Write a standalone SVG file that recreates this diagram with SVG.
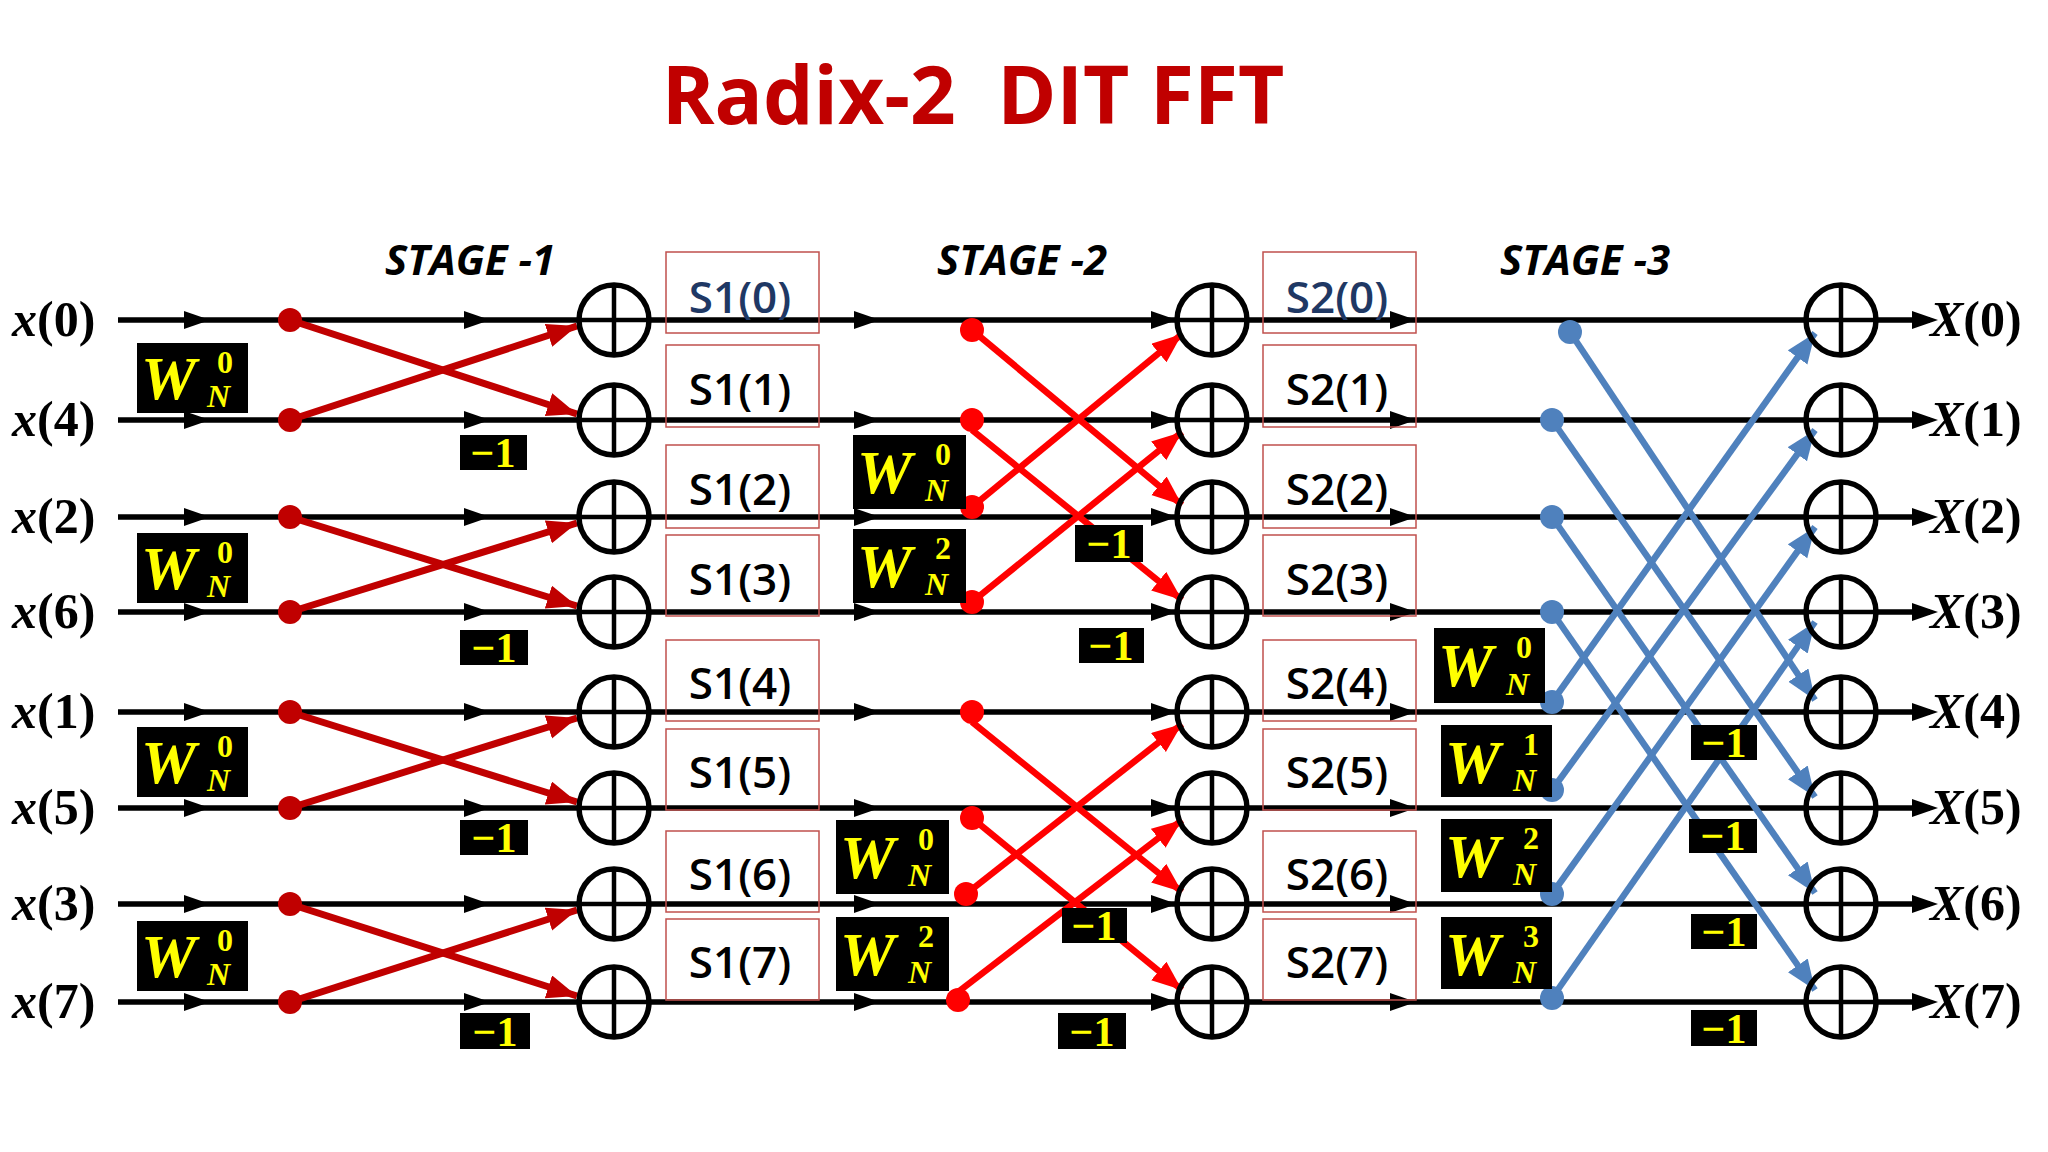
<svg xmlns="http://www.w3.org/2000/svg" xmlns:xlink="http://www.w3.org/1999/xlink" width="2048" height="1152" viewBox="0 0 2048 1152">
<style>
.title{font-family:"Open Sans","Liberation Sans",sans-serif;font-weight:bold;font-size:80px;fill:#c00000;white-space:pre}
.stage{font-family:"Open Sans","Liberation Sans",sans-serif;font-weight:bold;font-style:italic;font-size:42px;fill:#000}
.lbl{font-family:"Liberation Serif",serif;font-weight:bold;font-size:50px;fill:#000}
.it{font-style:italic}
.sb{fill:none;stroke:#c0504d;stroke-width:1.5}
.st{font-family:"Open Sans","Liberation Sans",sans-serif;font-weight:600;font-size:44px;fill:#000;text-anchor:middle}
.blue{fill:#1f3864}
.wb{fill:#000}
.W{font-family:"Liberation Serif",serif;font-weight:bold;font-style:italic;font-size:62px;fill:#ffff00}
.sup{font-family:"Liberation Serif",serif;font-weight:bold;font-size:32px;fill:#ffff00}
.sub{font-family:"Liberation Serif",serif;font-weight:bold;font-style:italic;font-size:32px;fill:#ffff00}
.m1{font-family:"Liberation Serif",serif;font-weight:bold;font-size:42px;fill:#ffff00;text-anchor:middle}
.ln{stroke:#000;stroke-width:5.5;fill:none}
.add circle{fill:none;stroke:#000;stroke-width:5.5}
.add path{stroke:#000;stroke-width:4.5}
.c1{stroke:#c00000;stroke-width:7;fill:none;marker-end:url(#a1)}
.c2{stroke:#ff0000;stroke-width:6.5;fill:none;marker-end:url(#a2)}
.c3{stroke:#4f81bd;stroke-width:6.5;fill:none;marker-end:url(#a3)}
</style>
<defs>
<polygon id="ah" points="-26,-9 0,0 -26,9"/>
<marker id="a1" markerUnits="userSpaceOnUse" markerWidth="40" markerHeight="30" refX="30" refY="12" orient="auto"><polygon points="0,0 30,12 0,24" fill="#c00000"/></marker>
<marker id="a2" markerUnits="userSpaceOnUse" markerWidth="40" markerHeight="30" refX="30" refY="12" orient="auto"><polygon points="0,0 30,12 0,24" fill="#ff0000"/></marker>
<marker id="a3" markerUnits="userSpaceOnUse" markerWidth="40" markerHeight="30" refX="30" refY="12" orient="auto"><polygon points="0,0 30,12 0,24" fill="#4f81bd"/></marker>
<g id="adder" class="add"><circle r="35"/><path d="M-35 0H35M0 -35V35"/></g>
</defs>

<text class="title" x="973" y="124" text-anchor="middle" xml:space="preserve">Radix-2  DIT FFT</text>
<text class="stage" x="470" y="275" text-anchor="middle">STAGE -1</text>
<text class="stage" x="1022" y="275" text-anchor="middle">STAGE -2</text>
<text class="stage" x="1585" y="275" text-anchor="middle">STAGE -3</text>

<g id="connectors">
<path class="ln" d="M118 320H579M118 420H579M118 517H579M118 612H579M118 712H579M118 808H579M118 904H579M118 1002H579"/>
<path class="ln" d="M649 320H1177M649 420H1177M649 517H1177M649 612H1177M649 712H1177M649 808H1177M649 904H1177M649 1002H1177"/>
<path class="ln" d="M1247 320H1806M1247 420H1806M1247 517H1806M1247 612H1806M1247 712H1806M1247 808H1806M1247 904H1806M1247 1002H1806"/>
<path class="ln" d="M1876 320H1930M1876 420H1930M1876 517H1930M1876 612H1930M1876 712H1930M1876 808H1930M1876 904H1930M1876 1002H1930"/>
<g fill="#000">
<use xlink:href="#ah" x="210" y="320"/><use xlink:href="#ah" x="210" y="420"/><use xlink:href="#ah" x="210" y="517"/><use xlink:href="#ah" x="210" y="612"/>
<use xlink:href="#ah" x="210" y="712"/><use xlink:href="#ah" x="210" y="808"/><use xlink:href="#ah" x="210" y="904"/><use xlink:href="#ah" x="210" y="1002"/>
<use xlink:href="#ah" x="490" y="320"/><use xlink:href="#ah" x="490" y="420"/><use xlink:href="#ah" x="490" y="517"/><use xlink:href="#ah" x="490" y="612"/>
<use xlink:href="#ah" x="490" y="712"/><use xlink:href="#ah" x="490" y="808"/><use xlink:href="#ah" x="490" y="904"/><use xlink:href="#ah" x="490" y="1002"/>
<use xlink:href="#ah" x="880" y="320"/><use xlink:href="#ah" x="880" y="420"/><use xlink:href="#ah" x="880" y="517"/><use xlink:href="#ah" x="880" y="612"/>
<use xlink:href="#ah" x="880" y="712"/><use xlink:href="#ah" x="880" y="808"/><use xlink:href="#ah" x="880" y="904"/><use xlink:href="#ah" x="880" y="1002"/>
<use xlink:href="#ah" x="1177" y="320"/><use xlink:href="#ah" x="1177" y="420"/><use xlink:href="#ah" x="1177" y="517"/><use xlink:href="#ah" x="1177" y="612"/>
<use xlink:href="#ah" x="1177" y="712"/><use xlink:href="#ah" x="1177" y="808"/><use xlink:href="#ah" x="1177" y="904"/><use xlink:href="#ah" x="1177" y="1002"/>
<use xlink:href="#ah" x="1416" y="320"/><use xlink:href="#ah" x="1416" y="420"/><use xlink:href="#ah" x="1416" y="517"/><use xlink:href="#ah" x="1416" y="612"/>
<use xlink:href="#ah" x="1416" y="712"/><use xlink:href="#ah" x="1416" y="808"/><use xlink:href="#ah" x="1416" y="904"/><use xlink:href="#ah" x="1416" y="1002"/>
<use xlink:href="#ah" x="1938" y="320"/><use xlink:href="#ah" x="1938" y="420"/><use xlink:href="#ah" x="1938" y="517"/><use xlink:href="#ah" x="1938" y="612"/>
<use xlink:href="#ah" x="1938" y="712"/><use xlink:href="#ah" x="1938" y="808"/><use xlink:href="#ah" x="1938" y="904"/><use xlink:href="#ah" x="1938" y="1002"/>
</g>
<path class="c1" d="M290 320L577 414"/><path class="c1" d="M290 420L577 326"/>
<path class="c1" d="M290 517L577 606"/><path class="c1" d="M290 612L577 523"/>
<path class="c1" d="M290 712L577 802"/><path class="c1" d="M290 808L577 718"/>
<path class="c1" d="M290 904L577 996"/><path class="c1" d="M290 1002L577 910"/>
<g fill="#c00000"><circle cx="290" cy="320" r="12"/><circle cx="290" cy="420" r="12"/><circle cx="290" cy="517" r="12"/><circle cx="290" cy="612" r="12"/><circle cx="290" cy="712" r="12"/><circle cx="290" cy="808" r="12"/><circle cx="290" cy="904" r="12"/><circle cx="290" cy="1002" r="12"/></g>
<path class="c2" d="M972 330L1182 505"/><path class="c2" d="M972 430L1182 600"/>
<path class="c2" d="M972 507L1182 334"/><path class="c2" d="M972 602L1182 432"/>
<path class="c2" d="M972 722L1182 892"/><path class="c2" d="M972 818L1182 990"/>
<path class="c2" d="M966 894L1182 724"/><path class="c2" d="M958 992L1182 820"/>
<g fill="#ff0000"><circle cx="972" cy="330" r="12"/><circle cx="972" cy="420" r="12"/><circle cx="972" cy="507" r="12"/><circle cx="972" cy="602" r="12"/><circle cx="972" cy="712" r="12"/><circle cx="972" cy="818" r="12"/><circle cx="966" cy="894" r="12"/><circle cx="958" cy="1000" r="12"/></g>
<path class="c3" d="M1570 332L1815 700"/><path class="c3" d="M1552 420L1815 797"/>
<path class="c3" d="M1552 517L1815 893"/><path class="c3" d="M1552 612L1815 990"/>
<path class="c3" d="M1552 702L1815 333"/><path class="c3" d="M1552 790L1815 430"/>
<path class="c3" d="M1552 894L1815 527"/><path class="c3" d="M1552 998L1815 622"/>
<g fill="#4f81bd"><circle cx="1570" cy="332" r="12"/><circle cx="1552" cy="420" r="12"/><circle cx="1552" cy="517" r="12"/><circle cx="1552" cy="612" r="12"/><circle cx="1552" cy="702" r="12"/><circle cx="1552" cy="790" r="12"/><circle cx="1552" cy="894" r="12"/><circle cx="1552" cy="998" r="12"/></g>
</g>

<g id="inputs" class="lbl">
<text x="12" y="336"><tspan class="it">x</tspan>(0)</text>
<text x="12" y="436"><tspan class="it">x</tspan>(4)</text>
<text x="12" y="533"><tspan class="it">x</tspan>(2)</text>
<text x="12" y="628"><tspan class="it">x</tspan>(6)</text>
<text x="12" y="728"><tspan class="it">x</tspan>(1)</text>
<text x="12" y="824"><tspan class="it">x</tspan>(5)</text>
<text x="12" y="920"><tspan class="it">x</tspan>(3)</text>
<text x="12" y="1018"><tspan class="it">x</tspan>(7)</text>
</g>
<g id="outputs" class="lbl">
<text x="1930" y="336"><tspan class="it">X</tspan>(0)</text>
<text x="1930" y="436"><tspan class="it">X</tspan>(1)</text>
<text x="1930" y="533"><tspan class="it">X</tspan>(2)</text>
<text x="1930" y="628"><tspan class="it">X</tspan>(3)</text>
<text x="1930" y="728"><tspan class="it">X</tspan>(4)</text>
<text x="1930" y="824"><tspan class="it">X</tspan>(5)</text>
<text x="1930" y="920"><tspan class="it">X</tspan>(6)</text>
<text x="1930" y="1018"><tspan class="it">X</tspan>(7)</text>
</g>

<g id="adders">
<use xlink:href="#adder" x="614" y="320"/><use xlink:href="#adder" x="614" y="420"/><use xlink:href="#adder" x="614" y="517"/><use xlink:href="#adder" x="614" y="612"/>
<use xlink:href="#adder" x="614" y="712"/><use xlink:href="#adder" x="614" y="808"/><use xlink:href="#adder" x="614" y="904"/><use xlink:href="#adder" x="614" y="1002"/>
<use xlink:href="#adder" x="1212" y="320"/><use xlink:href="#adder" x="1212" y="420"/><use xlink:href="#adder" x="1212" y="517"/><use xlink:href="#adder" x="1212" y="612"/>
<use xlink:href="#adder" x="1212" y="712"/><use xlink:href="#adder" x="1212" y="808"/><use xlink:href="#adder" x="1212" y="904"/><use xlink:href="#adder" x="1212" y="1002"/>
<use xlink:href="#adder" x="1841" y="320"/><use xlink:href="#adder" x="1841" y="420"/><use xlink:href="#adder" x="1841" y="517"/><use xlink:href="#adder" x="1841" y="612"/>
<use xlink:href="#adder" x="1841" y="712"/><use xlink:href="#adder" x="1841" y="808"/><use xlink:href="#adder" x="1841" y="904"/><use xlink:href="#adder" x="1841" y="1002"/>
</g>

<g id="s1">
<rect class="sb" x="666" y="252" width="153" height="81"/><text class="st blue" x="740" y="313">S1(0)</text>
<rect class="sb" x="666" y="345" width="153" height="82"/><text class="st" x="740" y="405">S1(1)</text>
<rect class="sb" x="666" y="445" width="153" height="83"/><text class="st" x="740" y="505">S1(2)</text>
<rect class="sb" x="666" y="535" width="153" height="81"/><text class="st" x="740" y="595">S1(3)</text>
<rect class="sb" x="666" y="640" width="153" height="81"/><text class="st" x="740" y="699">S1(4)</text>
<rect class="sb" x="666" y="729" width="153" height="81"/><text class="st" x="740" y="788">S1(5)</text>
<rect class="sb" x="666" y="831" width="153" height="81"/><text class="st" x="740" y="890">S1(6)</text>
<rect class="sb" x="666" y="919" width="153" height="81"/><text class="st" x="740" y="978">S1(7)</text>
</g>
<g id="s2">
<rect class="sb" x="1263" y="252" width="153" height="81"/><text class="st blue" x="1337" y="313">S2(0)</text>
<rect class="sb" x="1263" y="345" width="153" height="82"/><text class="st" x="1337" y="405">S2(1)</text>
<rect class="sb" x="1263" y="445" width="153" height="83"/><text class="st" x="1337" y="505">S2(2)</text>
<rect class="sb" x="1263" y="535" width="153" height="81"/><text class="st" x="1337" y="595">S2(3)</text>
<rect class="sb" x="1263" y="640" width="153" height="81"/><text class="st" x="1337" y="699">S2(4)</text>
<rect class="sb" x="1263" y="729" width="153" height="81"/><text class="st" x="1337" y="788">S2(5)</text>
<rect class="sb" x="1263" y="831" width="153" height="81"/><text class="st" x="1337" y="890">S2(6)</text>
<rect class="sb" x="1263" y="919" width="153" height="81"/><text class="st" x="1337" y="978">S2(7)</text>
</g>

<g id="twiddles">
<g transform="translate(137,343)"><rect class="wb" width="111" height="70"/><text class="W" x="4" y="56">W</text><text class="sup" x="80" y="30">0</text><text class="sub" x="70" y="64">N</text></g>
<g transform="translate(137,533)"><rect class="wb" width="111" height="70"/><text class="W" x="4" y="56">W</text><text class="sup" x="80" y="30">0</text><text class="sub" x="70" y="64">N</text></g>
<g transform="translate(137,727)"><rect class="wb" width="111" height="70"/><text class="W" x="4" y="56">W</text><text class="sup" x="80" y="30">0</text><text class="sub" x="70" y="64">N</text></g>
<g transform="translate(137,921)"><rect class="wb" width="111" height="70"/><text class="W" x="4" y="56">W</text><text class="sup" x="80" y="30">0</text><text class="sub" x="70" y="64">N</text></g>
<g transform="translate(853,435)"><rect class="wb" width="113" height="74"/><text class="W" x="4" y="58">W</text><text class="sup" x="82" y="30">0</text><text class="sub" x="72" y="66">N</text></g>
<g transform="translate(853,529)"><rect class="wb" width="113" height="74"/><text class="W" x="4" y="58">W</text><text class="sup" x="82" y="30">2</text><text class="sub" x="72" y="66">N</text></g>
<g transform="translate(836,820)"><rect class="wb" width="113" height="74"/><text class="W" x="4" y="58">W</text><text class="sup" x="82" y="30">0</text><text class="sub" x="72" y="66">N</text></g>
<g transform="translate(836,917)"><rect class="wb" width="113" height="74"/><text class="W" x="4" y="58">W</text><text class="sup" x="82" y="30">2</text><text class="sub" x="72" y="66">N</text></g>
<g transform="translate(1434,628)"><rect class="wb" width="111" height="75"/><text class="W" x="4" y="58">W</text><text class="sup" x="82" y="30">0</text><text class="sub" x="72" y="67">N</text></g>
<g transform="translate(1441,725)"><rect class="wb" width="111" height="72"/><text class="W" x="4" y="58">W</text><text class="sup" x="82" y="30">1</text><text class="sub" x="72" y="66">N</text></g>
<g transform="translate(1441,819)"><rect class="wb" width="111" height="73"/><text class="W" x="4" y="58">W</text><text class="sup" x="82" y="30">2</text><text class="sub" x="72" y="66">N</text></g>
<g transform="translate(1441,917)"><rect class="wb" width="111" height="72"/><text class="W" x="4" y="58">W</text><text class="sup" x="82" y="30">3</text><text class="sub" x="72" y="66">N</text></g>
</g>

<g id="minus">
<rect class="wb" x="460" y="435" width="67" height="35"/><text class="m1" x="493" y="467">−1</text>
<rect class="wb" x="460" y="630" width="68" height="35"/><text class="m1" x="494" y="662">−1</text>
<rect class="wb" x="460" y="820" width="68" height="35"/><text class="m1" x="494" y="852">−1</text>
<rect class="wb" x="460" y="1013" width="70" height="36"/><text class="m1" x="495" y="1046">−1</text>
<rect class="wb" x="1075" y="525" width="68" height="37"/><text class="m1" x="1109" y="558">−1</text>
<rect class="wb" x="1079" y="628" width="65" height="35"/><text class="m1" x="1111" y="660">−1</text>
<rect class="wb" x="1062" y="908" width="65" height="35"/><text class="m1" x="1094" y="940">−1</text>
<rect class="wb" x="1058" y="1013" width="68" height="36"/><text class="m1" x="1092" y="1046">−1</text>
<rect class="wb" x="1691" y="725" width="66" height="35"/><text class="m1" x="1724" y="757">−1</text>
<rect class="wb" x="1689" y="819" width="68" height="34"/><text class="m1" x="1723" y="850">−1</text>
<rect class="wb" x="1691" y="914" width="66" height="35"/><text class="m1" x="1724" y="946">−1</text>
<rect class="wb" x="1691" y="1010" width="66" height="36"/><text class="m1" x="1724" y="1043">−1</text>
</g>
</svg>
